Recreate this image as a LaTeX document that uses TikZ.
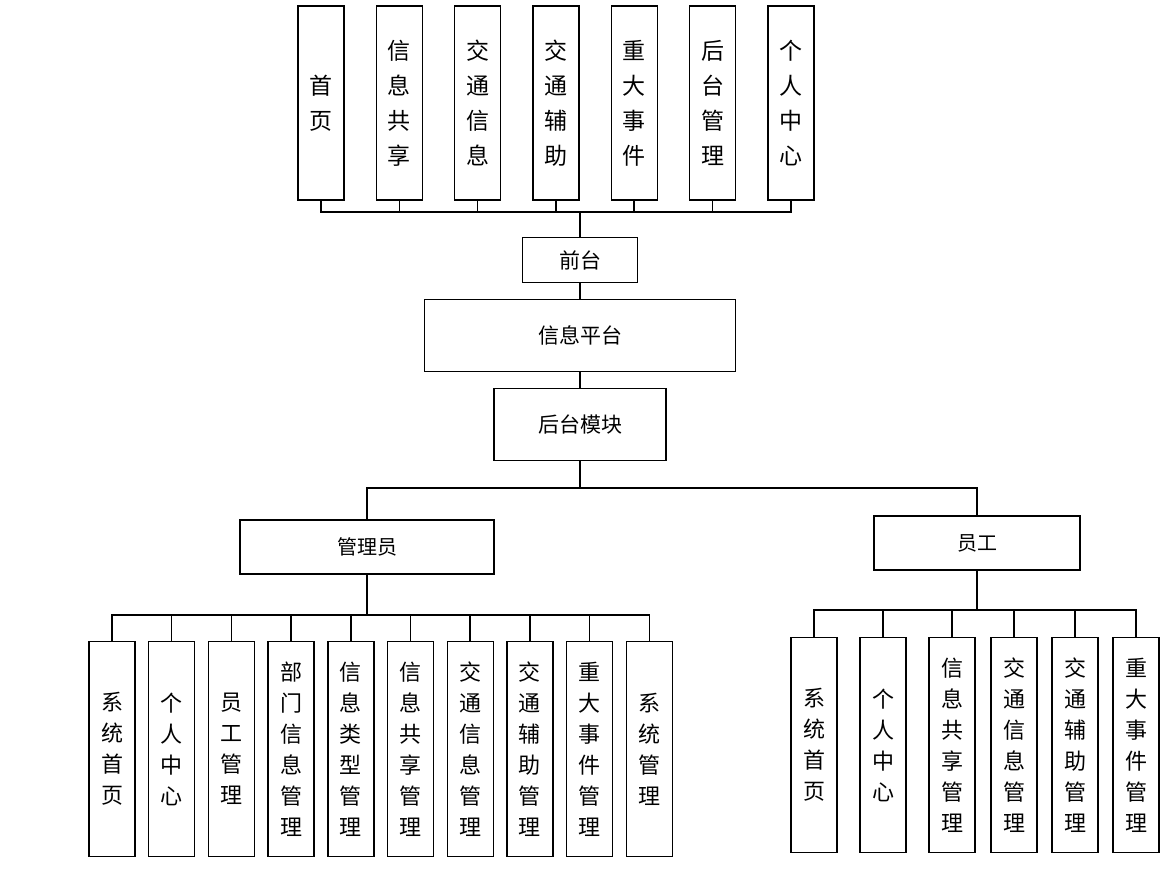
\documentclass[tikz,border=0pt]{standalone}
\usepackage{fontspec}
\setmainfont{Noto Sans CJK SC}
\usepackage{tikz}
\usetikzlibrary{positioning}

\begin{document}
\begin{tikzpicture}[x=1pt,y=-1pt,node distance=17pt and 32.3pt]
\tikzset{
 tall/.style={draw,line width=1.4pt,fill=white,minimum width=46pt,minimum height=194pt,inner sep=0pt,outer sep=0pt,align=center,font=\fontsize{23}{35}\selectfont},
 leaf/.style={draw,line width=1.4pt,fill=white,minimum width=46pt,minimum height=215pt,inner sep=0pt,outer sep=0pt,align=center,font=\fontsize{22}{31}\selectfont},
 mid/.style={draw,line width=1.4pt,fill=white,inner sep=0pt,outer sep=0pt,align=center,font=\fontsize{21}{24}\selectfont},
 link/.style={line width=1.5pt}
}
\useasboundingbox (0,0) rectangle (1174,871);
% front pages
\node[tall] at (321,103) (home) {首\\页};
\node[tall,right=of home] (share) {信\\息\\共\\享};
\node[tall,right=of share] (traffic) {交\\通\\信\\息};
\node[tall,right=of traffic] (assist) {交\\通\\辅\\助};
\node[tall,right=of assist] (event) {重\\大\\事\\件};
\node[tall,right=of event] (backend) {后\\台\\管\\理};
\node[tall,right=of backend] (mine) {个\\人\\中\\心};
% middle chain
\node[mid,minimum width=115pt,minimum height=45pt] at (580,260) (front) {前台};
\node[mid,minimum width=311pt,minimum height=72pt,below=of front] (platform) {信息平台};
\node[mid,minimum width=172pt,minimum height=72pt,below=of platform] (module) {后台模块};
\node[mid,font=\fontsize{20}{24}\selectfont,minimum width=254pt,minimum height=54pt] at (367,547) (admin) {管理员};
\node[mid,font=\fontsize{20}{24}\selectfont,minimum width=206pt,minimum height=54pt] at (977,543) (staff) {员工};
% admin functions
\node[leaf] at (112,749) (a1) {系\\统\\首\\页};
\node[leaf,right=13.7pt of a1] (a2) {个\\人\\中\\心};
\node[leaf,right=13.7pt of a2] (a3) {员\\工\\管\\理};
\node[leaf,right=13.7pt of a3] (a4) {部\\门\\信\\息\\管\\理};
\node[leaf,right=13.7pt of a4] (a5) {信\\息\\类\\型\\管\\理};
\node[leaf,right=13.7pt of a5] (a6) {信\\息\\共\\享\\管\\理};
\node[leaf,right=13.7pt of a6] (a7) {交\\通\\信\\息\\管\\理};
\node[leaf,right=13.7pt of a7] (a8) {交\\通\\辅\\助\\管\\理};
\node[leaf,right=13.7pt of a8] (a9) {重\\大\\事\\件\\管\\理};
\node[leaf,right=13.7pt of a9] (a10) {系\\统\\管\\理};
% staff functions
\node[leaf] at (814,745) (s1) {系\\统\\首\\页};
\node[leaf,right=23pt of s1] (s2) {个\\人\\中\\心};
\node[leaf,right=23pt of s2] (s3) {信\\息\\共\\享\\管\\理};
\node[leaf,right=16pt of s3] (s4) {交\\通\\信\\息\\管\\理};
\node[leaf,right=15pt of s4] (s5) {交\\通\\辅\\助\\管\\理};
\node[leaf,right=15pt of s5] (s6) {重\\大\\事\\件\\管\\理};
% buses
\coordinate (topbus) at (580,212);
\coordinate (mainbus) at (580,488);
\coordinate (adminbus) at (367,615);
\coordinate (staffbus) at (977,610);
\draw[link] (home.south) |- (topbus);
\draw[link] (share.south) |- (topbus);
\draw[link] (traffic.south) |- (topbus);
\draw[link] (assist.south) |- (topbus);
\draw[link] (event.south) |- (topbus);
\draw[link] (backend.south) |- (topbus);
\draw[link] (mine.south) |- (topbus);
\draw[link] (topbus) -- (front.north);
\draw[link] (front) -- (platform);
\draw[link] (platform) -- (module);
\draw[link] (module.south) -- (mainbus);
\draw[link] (mainbus) -| (admin.north);
\draw[link] (mainbus) -| (staff.north);
\draw[link] (admin.south) -- (adminbus);
\draw[link] (adminbus) -| (a1.north);
\draw[link] (adminbus) -| (a2.north);
\draw[link] (adminbus) -| (a3.north);
\draw[link] (adminbus) -| (a4.north);
\draw[link] (adminbus) -| (a5.north);
\draw[link] (adminbus) -| (a6.north);
\draw[link] (adminbus) -| (a7.north);
\draw[link] (adminbus) -| (a8.north);
\draw[link] (adminbus) -| (a9.north);
\draw[link] (adminbus) -| (a10.north);
\draw[link] (staff.south) -- (staffbus);
\draw[link] (staffbus) -| (s1.north);
\draw[link] (staffbus) -| (s2.north);
\draw[link] (staffbus) -| (s3.north);
\draw[link] (staffbus) -| (s4.north);
\draw[link] (staffbus) -| (s5.north);
\draw[link] (staffbus) -| (s6.north);
\end{tikzpicture}
\end{document}
